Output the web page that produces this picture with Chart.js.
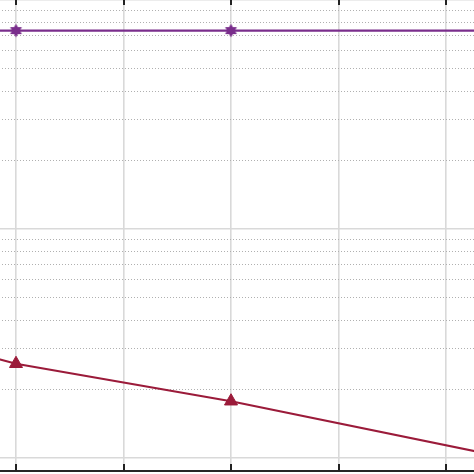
<!DOCTYPE html>
<html>
<head>
<meta charset="utf-8">
<script src="https://cdn.jsdelivr.net/npm/chart.js@4"></script>
<style>
  html, body { margin: 0; padding: 0; background: #fff; overflow: hidden; width: 474px; height: 474px; }
  #wrap { position: absolute; left: -199px; top: -2px; width: 860px; height: 483px; }
</style>
</head>
<body>
<div id="wrap"><canvas id="grafica"></canvas></div>
<script>
// valores (eje y logaritmico)
const xValues = [-2, 0, 2, 6];
const redValues = [4.6, 2.58, 1.77, 0.73];
const purpleValues = [73.5, 73.5, 73.5, 73.5];
const yGridValues = [1, 2, 3, 4, 5, 6, 7, 8, 9, 10, 20, 30, 40, 50, 60, 70, 80, 90, 100];

const esMayor = (v) => Math.abs(Math.log10(v) - Math.round(Math.log10(v))) < 1e-6;

// marcador estrella de seis puntas
const estrella = document.createElement('canvas');
estrella.width = 15;
estrella.height = 15;
const sctx = estrella.getContext('2d');
sctx.fillStyle = '#7a2e8c';
sctx.beginPath();
for (let i = 0; i < 12; i++) {
    const r = i % 2 === 0 ? 6.8 : 3.9;
    const a = -Math.PI / 2 + i * Math.PI / 6;
    const px = 7.5 + r * Math.cos(a);
    const py = 7.5 + r * Math.sin(a);
    if (i === 0) sctx.moveTo(px, py); else sctx.lineTo(px, py);
}
sctx.closePath();
sctx.fill();

// marcas hacia dentro arriba y abajo
const marcasInternas = {
    id: 'marcasInternas',
    afterDraw(chart) {
        const { ctx, chartArea, scales } = chart;
        const x = scales.x;
        ctx.save();
        ctx.strokeStyle = '#222';
        ctx.lineWidth = 2;
        x.ticks.forEach(t => {
            const px = Math.round(x.getPixelForValue(t.value));
            ctx.beginPath();
            ctx.moveTo(px, chartArea.bottom);
            ctx.lineTo(px, chartArea.bottom - 7);
            ctx.moveTo(px, chartArea.top);
            ctx.lineTo(px, chartArea.top + 7);
            ctx.stroke();
        });
        ctx.restore();
    }
};

const ctx = document.getElementById('grafica').getContext('2d');

const grafica = new Chart(ctx, {
    type: 'line',
    data: {
        datasets: [{
            data: xValues.map((x, i) => ({ x: x, y: purpleValues[i] })),
            borderColor: '#7a2e8c',
            backgroundColor: '#7a2e8c',
            borderWidth: 2.2,
            pointStyle: estrella,
            pointRadius: 7
        }, {
            data: xValues.map((x, i) => ({ x: x, y: redValues[i] })),
            borderColor: '#9b1b3a',
            backgroundColor: '#9b1b3a',
            borderWidth: 2.2,
            pointStyle: 'triangle',
            pointRadius: 7.5,
            pointBorderWidth: 1
        }]
    },
    options: {
        responsive: true,
        maintainAspectRatio: false,
        animation: false,
        layout: { autoPadding: false, padding: { top: 0, bottom: 10, left: 0, right: 0 } },
        plugins: { legend: { display: false }, tooltip: { enabled: false } },
        scales: {
            x: {
                type: 'linear',
                position: 'bottom',
                min: -2,
                max: 6,
                ticks: { display: false, stepSize: 1 },
                grid: { color: '#d9d9d9', lineWidth: 1.6, drawTicks: false },
                border: { display: true, color: '#262626', width: 2 }
            },
            y: {
                type: 'logarithmic',
                min: 0.8775,
                max: 102,
                afterBuildTicks: (scale) => {
                    scale.ticks = yGridValues.map(v => ({ value: v, major: esMayor(v) }));
                },
                ticks: { display: false },
                grid: {
                    drawTicks: false,
                    color: (c) => c.tick && esMayor(c.tick.value) ? '#d9d9d9' : '#b0b0b0',
                    lineWidth: (c) => c.tick && esMayor(c.tick.value) ? 1.6 : 1
                },
                border: {
                    display: false,
                    dash: (c) => c.tick && !esMayor(c.tick.value) ? [1, 2] : []
                }
            }
        }
    },
    plugins: [marcasInternas]
});
</script>
</body>
</html>
